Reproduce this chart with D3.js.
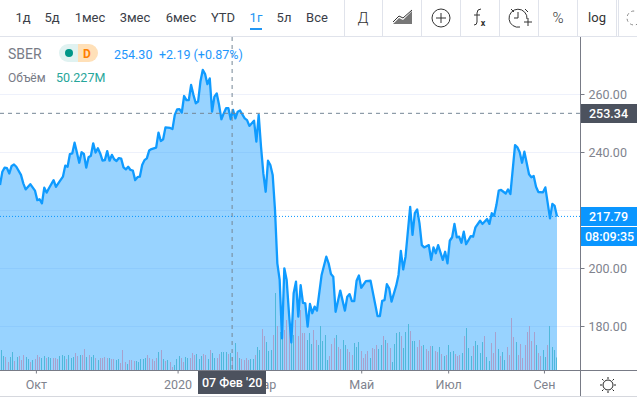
<!DOCTYPE html>
<html>
<head>
<meta charset="utf-8">
<script src="https://cdnjs.cloudflare.com/ajax/libs/d3/7.8.5/d3.min.js"></script>
<style>
html, body { margin: 0; padding: 0; background: #fff; overflow: hidden; }
text { font-family: Roboto, "Noto Sans", sans-serif; }
.axis line { stroke: #787b86; }
.axis text { fill: #80838e; font-size: 12.5px; font-family: Roboto, sans-serif; }
</style>
</head>
<body>
<div id="chart"></div>
<script>
// price readings: position along the time axis, close value
var lineSteps = [0,1,2,3,4,5,6,7,9,10,11,13,14,15,16,17,18,19,20,21,23,24,25,27,28,29,30,31,32,33,34,35,36,37,38,39,40,41,42,43,44,45,46,47,48,49,50,51,52,53,54,55,56,57,58,59,60,61,62,63,64,65,67,68,69,70,71,73,74,75,76,77,78,79,80,81,82,83,84,85,86,87,88,89,90,91,92,93,94,95,96,97,98,99,100,101,102,103,105,106,107,109,110,111,112,113,114,115,116,117,118,119,120,121,122,123,124,125,126,127,128,129,130,131,132,133,134,135,136,138,140,141,142,143,144,146,148,149,150,151,152,153,154,155,157,159,162,163,164,165,166,167,168,170,171,172,173,174,176,177,178,179,180,181,182,184,185,186,187,188,190,191,192,193,194,195,196,197,198,199,200,202,203,204,206,207,209,210,211,212,213,214,215,217,218,219,221,222,223,224,225,227,228,229,230,231,233,234,236,237,238,239];
var closes = [228.6,233.2,234.6,234.4,232.6,235.2,235.7,234.9,232.1,229.2,227.1,228.9,227.8,226.7,223.4,223.7,222.3,227.7,226,227.5,230.3,228,229.2,231.5,235.3,234.9,239.3,239.5,243.2,239.8,236.3,239.9,239.3,234.6,238.2,238.7,243,239.8,241.3,239.5,237,237.2,240.3,237,239,237.5,236.9,237.9,237.7,234.7,234,234.9,233.8,233.6,230.3,231.3,231.5,235.5,237.2,237.8,240.5,241,241.5,246.7,243.8,244.4,248.5,248.3,247.9,252.8,254.7,254.8,253.6,259.3,257.9,257.9,263.1,259.7,256.8,257.4,264.3,268.3,266.9,263.4,265.4,253.9,259.1,260.2,256.2,251.3,253.3,255.1,255.1,251.3,254.5,251.6,253.9,254.3,251.6,251,249,250.8,243.6,252.8,241.8,232.6,226.3,237,235.5,232.1,220,201.6,195.9,175.7,199.9,195.9,184.4,174.3,191.3,195.3,183.2,194.1,188,187.8,179.8,187.6,184.4,186.7,185.3,197.6,203.9,201.6,197.9,197,184.9,192.2,185.3,190.1,191,188.6,188.6,195.6,197.4,193.2,195.5,195.6,183.4,183.4,188.7,188.9,194.4,193,188.4,193.9,197.6,205.9,199.5,203.9,221.1,211.4,218.9,220.2,215.4,207.9,207.1,207.9,202.8,207.1,205.1,207.9,202.8,205.6,201.6,209.4,210.6,215.2,210.6,210.8,208.7,212.5,208.2,211,210.8,214,216.3,215.2,216.9,215.2,218.9,218,221.7,226.7,226.9,225.7,227.1,225.5,242.4,241.6,239.9,236.3,240.1,232.3,231.3,231.7,228,226.2,226.1,227.8,217.1,222.1,221.4,217.79];

// volume in millions, one per session
var volumes = [80,56,52,32,52,72,36,52,56,40,60,52,44,32,40,44,60,52,48,56,48,52,48,48,48,44,56,60,56,44,60,48,52,68,56,60,60,84,52,60,52,60,48,40,48,48,52,48,48,44,44,40,44,28,80,32,24,40,40,36,36,32,
  44,44,48,60,48,44,36,48,72,80,44,36,40,32,12,20,44,56,48,32,52,48,
  48,68,60,64,44,56,64,60,44,80,68,48,48,64,72,72,72,64,68,52,108,72,48,44,40,48,40,44,44,60,92,80,164,136,112,76,80,140,
  308,176,152,220,160,200,188,120,140,200,136,240,148,148,120,148,104,160,120,100,176,116,140,40,56,104,128,140,92,84,120,100,84,72,60,108,92,112,76,48,64,76,48,88,84,100,84,100,136,120,108,88,32,104,148,152,136,88,152,184,156,116,116,92,
  120,96,100,84,76,96,96,76,72,92,64,56,60,100,72,76,64,56,60,68,136,168,88,56,96,116,100,68,112,136,52,36,108,68,152,84,56,72,40,92,60,208,132,112,60,104,48,100,152,176,116,152,100,68,56,80,52,100,176,92,80,50.227];
// t = up session, p = down session, same order as volumes
var volumeSides = [
  "ttppttptppptt", "ptppp", "ttptt", "ppp", "ttt", "p", "ttt", "pp", "t", "pp", "tp", "tt", "pt", "pppp", "t", "pp", "tt", "ppp", "t", "ppp", "tt",
  "tttpppppt", "ptptpp", "tttpptt",
  "ppptttpptpttpptttptptpt", "ppppttpttpptttp",
  "tpttppptt", "ppppptttpp", "ttttt", "pppt", "pptt", "ppp", "ttt", "pppp", "t", "ppp", "tt", "pt", "pp", "tttt", "ptttpttp",
  "pptppptpptptpttt", "ppptpttt", "ptttt", "pttppp", "tpttpppp", "tpppppppp", "tpptt", "p"
].join("").split("");

var priceTicks = [260, 240, 200, 180];
var priceLabels = ["260.00", "240.00", "200.00", "180.00"];
var gridPrices = [260, 240, 220, 200, 180];
var monthSteps = [15.4, 76.2, 113, 155, 192.3, 233.4];
var monthLabels = ["Окт", "2020", "Мар", "Май", "Июл", "Сен"];
var rangeTabs = ["1д", "5д", "1мес", "3мес", "6мес", "YTD", "1г", "5л", "Все"];
var tabCenters = [23, 52, 90, 135, 181, 223, 256, 284, 317];
var crossPrice = 253.34, lastPrice = 217.79, crossStep = 99.6;

var svgWidth = 637, svgHeight = 400;
var plotRight = 580, baseY = 370, topY = 37;

var svg = d3.select("#chart").append("svg")
  .attr("width", svgWidth)
  .attr("height", svgHeight)
  .style("display", "block");

var xScale = d3.scaleLinear().domain([0, 239]).range([0, 557]);
var yScale = d3.scaleLinear().domain([180, 260]).range([326, 94]);
var volX = d3.scalePoint().domain(d3.range(volumes.length)).range([1, 556]);
var volY = d3.scaleLinear().domain([0, 400]).range([baseY, baseY - 100]);

var points = lineSteps.map(function (s, i) { return { step: s, close: closes[i] }; });

// grid
svg.selectAll(".grid").data(gridPrices).enter().append("line")
  .attr("x1", 0).attr("x2", plotRight)
  .attr("y1", function (d) { return yScale(d) + 0.5; })
  .attr("y2", function (d) { return yScale(d) + 0.5; })
  .attr("stroke", "#eef1fb");

// price area and line
var area = d3.area()
  .x(function (d) { return xScale(d.step); })
  .y0(baseY)
  .y1(function (d) { return yScale(d.close); });
var line = d3.line()
  .x(function (d) { return xScale(d.step); })
  .y(function (d) { return yScale(d.close); });

svg.append("path").datum(points).attr("d", area)
  .attr("fill", "#0a96ff").attr("fill-opacity", 0.42);

// volume bars
svg.selectAll(".vol").data(volumes).enter().append("rect")
  .attr("x", function (d, i) { return Math.round(volX(i)); })
  .attr("width", 1)
  .attr("y", function (d) { return volY(d); })
  .attr("height", function (d) { return baseY - volY(d); })
  .attr("fill", function (d, i) { return volumeSides[i] === "p" ? "#a7a1cd" : "#4fb8da"; });

svg.append("path").datum(points).attr("d", line)
  .attr("fill", "none").attr("stroke", "#0f9bff").attr("stroke-width", 2.3)
  .attr("stroke-linejoin", "round");

// crosshair and last price
svg.append("line").attr("x1", 0).attr("x2", plotRight)
  .attr("y1", yScale(crossPrice)).attr("y2", yScale(crossPrice))
  .attr("stroke", "#758696").attr("stroke-dasharray", "4 4");
svg.append("line").attr("x1", xScale(crossStep)).attr("x2", xScale(crossStep))
  .attr("y1", topY).attr("y2", baseY)
  .attr("stroke", "#758696").attr("stroke-dasharray", "4 4");
svg.append("line").attr("x1", 0).attr("x2", plotRight)
  .attr("y1", yScale(lastPrice)).attr("y2", yScale(lastPrice))
  .attr("stroke", "#0a96ff").attr("stroke-dasharray", "1 2");

// axes
var priceAxis = d3.axisRight(yScale)
  .tickValues(priceTicks)
  .tickSize(4).tickPadding(4)
  .tickFormat(function (d, i) { return priceLabels[i]; });
svg.append("g").attr("class", "axis")
  .attr("transform", "translate(" + (plotRight + 0.5) + ",0)")
  .call(priceAxis)
  .call(function (g) { g.select(".domain").remove(); });
svg.append("line").attr("x1", plotRight + 0.5).attr("x2", plotRight + 0.5)
  .attr("y1", topY).attr("y2", 396).attr("stroke", "#787b86");

var timeAxis = d3.axisBottom(xScale)
  .tickValues(monthSteps)
  .tickSize(3).tickPadding(7)
  .tickFormat(function (d, i) { return monthLabels[i]; });
svg.append("g").attr("class", "axis")
  .attr("transform", "translate(0," + (baseY + 0.5) + ")")
  .call(timeAxis)
  .call(function (g) { g.select(".domain").remove(); });
svg.append("line").attr("x1", 0).attr("x2", svgWidth)
  .attr("y1", baseY + 0.5).attr("y2", baseY + 0.5).attr("stroke", "#787b86");
svg.append("line").attr("x1", 0).attr("x2", svgWidth)
  .attr("y1", 396.5).attr("y2", 396.5).attr("stroke", "#d6d8de");

// crosshair date box
svg.append("rect").attr("x", 198).attr("y", 371).attr("width", 68).attr("height", 23).attr("fill", "#4c525e");
svg.append("text").attr("x", xScale(crossStep)).attr("y", 387).attr("text-anchor", "middle")
  .attr("fill", "#fff").attr("font-size", 12.5).attr("font-weight", 500).text("07 Фев '20");

// price labels on the axis
function priceBox(y, h, fill, label) {
  svg.append("rect").attr("x", 581).attr("y", y).attr("width", 56).attr("height", h).attr("fill", fill);
  svg.append("text").attr("x", 589).attr("y", y + h / 2 + 4.5).attr("fill", "#fff")
    .attr("font-size", 12.5).attr("font-weight", 500).text(label);
}
priceBox(104, 19, "#4c525e", "253.34");
priceBox(207, 19, "#0a96ff", "217.79");
svg.append("rect").attr("x", 581).attr("y", 227).attr("width", 56).attr("height", 19).attr("fill", "#0a96ff");
svg.append("text").attr("x", 585).attr("y", 241).attr("fill", "#fff").attr("font-size", 12.5).attr("font-weight", 500).text("08:09:35");

// toolbar
svg.append("line").attr("x1", 0).attr("x2", svgWidth).attr("y1", 36.5).attr("y2", 36.5).attr("stroke", "#e0e3eb");
svg.selectAll(".tab").data(rangeTabs).enter().append("text")
  .attr("x", function (d, i) { return tabCenters[i]; })
  .attr("y", 22).attr("text-anchor", "middle").attr("font-size", 13)
  .attr("fill", function (d) { return d === "1г" ? "#2196f3" : "#3a3e48"; })
  .text(function (d) { return d; });
svg.append("rect").attr("x", 250).attr("y", 28).attr("width", 12).attr("height", 2).attr("fill", "#2196f3");

svg.selectAll(".divider").data([344, 382, 421, 460, 499, 538, 577, 616, 618]).enter().append("line")
  .attr("x1", function (d) { return d + 0.5; }).attr("x2", function (d) { return d + 0.5; })
  .attr("y1", 0).attr("y2", 36).attr("stroke", "#e0e3eb");

svg.append("text").attr("x", 363).attr("y", 23).attr("text-anchor", "middle").attr("font-size", 15).attr("font-weight", 300).attr("fill", "#333").text("Д");
svg.append("path").attr("d", "M393 24 L399 18 L403 20 L412 11 L412 24 Z").attr("fill", "#777");
svg.append("path").attr("d", "M393 22 L399 16 L403 18 L412 10").attr("fill", "none").attr("stroke", "#333");
svg.append("circle").attr("cx", 441).attr("cy", 18).attr("r", 9).attr("fill", "none").attr("stroke", "#333");
svg.append("path").attr("d", "M436 18 H446 M441 13 V23").attr("stroke", "#333");
svg.append("path").attr("d", "M481 9 Q477 9 477 13 V22 Q477 25 474 25 M474 15 H480").attr("fill", "none").attr("stroke", "#333");
svg.append("text").attr("x", 483).attr("y", 26).attr("text-anchor", "middle").attr("font-size", 9).attr("font-weight", 700).attr("fill", "#333").text("x");
svg.append("path").attr("d", "M527 19 A9 9 0 1 0 520 27 M518 12 V18 H514 M511 9 L514 12 M528 12 L525 9 M524 22 H532 M528 18 V26")
  .attr("fill", "none").attr("stroke", "#333");
svg.append("text").attr("x", 558).attr("y", 23).attr("text-anchor", "middle").attr("font-size", 15).attr("font-weight", 300).attr("fill", "#333").text("%");
svg.append("text").attr("x", 597).attr("y", 22).attr("text-anchor", "middle").attr("font-size", 13).attr("fill", "#333").text("log");
svg.append("circle").attr("cx", 634).attr("cy", 18).attr("r", 7).attr("fill", "none").attr("stroke", "#888").attr("stroke-dasharray", "3 3");

// legend
svg.append("text").attr("x", 8).attr("y", 59).attr("font-size", 14).attr("fill", "#787b86").text("SBER");
svg.append("path").attr("d", "M78 44 H68 A9 9 0 0 0 68 62 H78 Z").attr("fill", "#e0f2f1");
svg.append("path").attr("d", "M78 44 H89 A9 9 0 0 1 89 62 H78 Z").attr("fill", "#ffe0b8");
svg.append("circle").attr("cx", 69).attr("cy", 53).attr("r", 4).attr("fill", "#009688");
svg.append("text").attr("x", 87).attr("y", 58).attr("text-anchor", "middle").attr("font-size", 12).attr("font-weight", 700).attr("fill", "#ff7f00").text("D");
svg.append("text").attr("x", 114).attr("y", 59).attr("font-size", 12.5).attr("fill", "#1e96fc").text("254.30");
svg.append("text").attr("x", 159).attr("y", 59).attr("font-size", 12.5).attr("fill", "#1e96fc").text("+2.19 (+0.87%)");
svg.append("text").attr("x", 8).attr("y", 82).attr("font-size", 12).attr("fill", "#787b86").text("Объём");
svg.append("text").attr("x", 56).attr("y", 82).attr("font-size", 12.5).attr("fill", "#26a69a").text("50.227M");

// gear
svg.append("circle").attr("cx", 608).attr("cy", 385).attr("r", 5).attr("fill", "none").attr("stroke", "#222");
svg.append("path").attr("d", "M608 377 V379 M608 391 V393 M600 385 H602 M614 385 H616 M602 379 L603.5 380.5 M612.5 389.5 L614 391 M602 391 L603.5 389.5 M612.5 380.5 L614 379")
  .attr("stroke", "#222");
</script>
</body>
</html>
